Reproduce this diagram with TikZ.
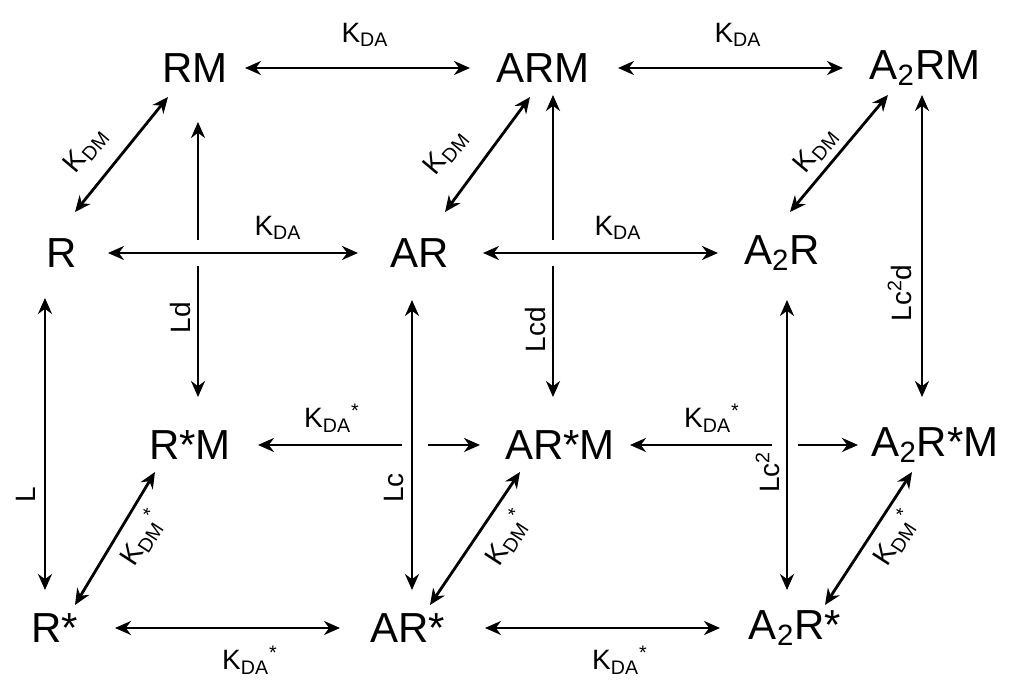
\documentclass[tikz,border=0pt]{standalone}
\usepackage{fontspec}
\setmainfont{Liberation Sans}
\usetikzlibrary{arrows.meta}
\begin{document}
\begin{tikzpicture}[x=0.5pt,y=-0.5pt,
  st/.style={font=\fontsize{21}{24}\selectfont,inner sep=0pt},
  lb/.style={font=\fontsize{14}{16}\selectfont,inner sep=0pt},
  ar/.style={line width=1.4pt,{Stealth[length=8pt,width=7pt]}-{Stealth[length=8pt,width=7pt]}},
  ae/.style={line width=1.4pt,-{Stealth[length=8pt,width=7pt]}}]
\useasboundingbox (0,0) rectangle (1024,694);
\node[st] (RM) at (195,68) {RM};
\node[st] (ARM) at (543,68) {ARM};
\node[st] (A2RM) at (925,68) {A\textsubscript{2}RM};
\node[st] (R) at (62,253) {R};
\node[st] (AR) at (420,253) {AR};
\node[st] (A2R) at (782,253) {A\textsubscript{2}R};
\node[st] (RsM) at (190,445) {R*M};
\node[st] (ARsM) at (560,445) {AR*M};
\node[st] (A2RsM) at (935,445) {A\textsubscript{2}R*M};
\node[st] (Rs) at (55,628) {R*};
\node[st] (ARs) at (408,628) {AR*};
\node[st] (A2Rs) at (795,628) {A\textsubscript{2}R*};
\foreach \n/\x/\y in {a1/245/68,a2/470/68,b1/618/68,b2/843/68,c1/108/253,c2/358/253,d1/483/253,d2/718/253,
 e1/258/445,e2/402/445,e3/428/445,e4/480/445,f1/630/445,f2/772/445,f3/798/445,f4/858/445,
 g1/115/628,g2/340/628,h1/485/628,h2/720/628,
 i1/168/97,i2/75/212,j1/530/97,j2/445/212,k1/888/95,k2/790/212,
 l1/155/472,l2/75/605,m1/520/472,m2/430/605,n1/912/472,n2/825/605,
 o1/198/122,o2/198/240,o3/198/266,o4/198/397,p1/553/95,p2/553/240,p3/553/266,p4/553/397,
 q1/922/95,q2/922/397,r1/45/298,r2/45/590,s1/412/300,s2/412/590,t1/787/300,t2/787/590}
 {\coordinate (\n) at (\x,\y);}
\draw[ar] (a1)--(a2); \draw[ar] (b1)--(b2);
\draw[ar] (c1)--(c2); \draw[ar] (d1)--(d2);
\draw[ae] (e2)--(e1); \draw[ae] (e3)--(e4);
\draw[ae] (f2)--(f1); \draw[ae] (f3)--(f4);
\draw[ar] (g1)--(g2); \draw[ar] (h1)--(h2);
\draw[ar] (i1)--(i2); \draw[ar] (j1)--(j2); \draw[ar] (k1)--(k2);
\draw[ar] (l1)--(l2); \draw[ar] (m1)--(m2); \draw[ar] (n1)--(n2);
\draw[ae] (o2)--(o1); \draw[ae] (o3)--(o4);
\draw[ae] (p2)--(p1); \draw[ae] (p3)--(p4);
\draw[ar] (q1)--(q2); \draw[ar] (r1)--(r2); \draw[ar] (s1)--(s2); \draw[ar] (t1)--(t2);
\node[lb] (la1) at (365,35) {K\textsubscript{DA}};
\node[lb] (la2) at (738,35) {K\textsubscript{DA}};
\node[lb] (la3) at (278,228) {K\textsubscript{DA}};
\node[lb] (la4) at (618,228) {K\textsubscript{DA}};
\node[lb] (la5) at (332,418) {K\textsubscript{DA}\textsuperscript{*}};
\node[lb] (la6) at (712,418) {K\textsubscript{DA}\textsuperscript{*}};
\node[lb] (la7) at (250,660) {K\textsubscript{DA}\textsuperscript{*}};
\node[lb] (la8) at (620,660) {K\textsubscript{DA}\textsuperscript{*}};
\node[lb,rotate=50] (lb1) at (86,150) {K\textsubscript{DM}};
\node[lb,rotate=50] (lb2) at (446,152) {K\textsubscript{DM}};
\node[lb,rotate=50] (lb3) at (816,150) {K\textsubscript{DM}};
\node[lb,rotate=57] (lb4) at (142,538) {K\textsubscript{DM}\textsuperscript{*}};
\node[lb,rotate=57] (lb5) at (507,538) {K\textsubscript{DM}\textsuperscript{*}};
\node[lb,rotate=57] (lb6) at (895,538) {K\textsubscript{DM}\textsuperscript{*}};
\node[lb,rotate=90] (lc1) at (180,318) {Ld};
\node[lb,rotate=90] (lc2) at (535,330) {Lcd};
\node[lb,rotate=90] (lc3) at (900,293) {Lc\textsuperscript{2}d};
\node[lb,rotate=90] (lc4) at (26,495) {L};
\node[lb,rotate=90] (lc5) at (394,488) {Lc};
\node[lb,rotate=90] (lc6) at (768,472) {Lc\textsuperscript{2}};
\end{tikzpicture}
\end{document}
